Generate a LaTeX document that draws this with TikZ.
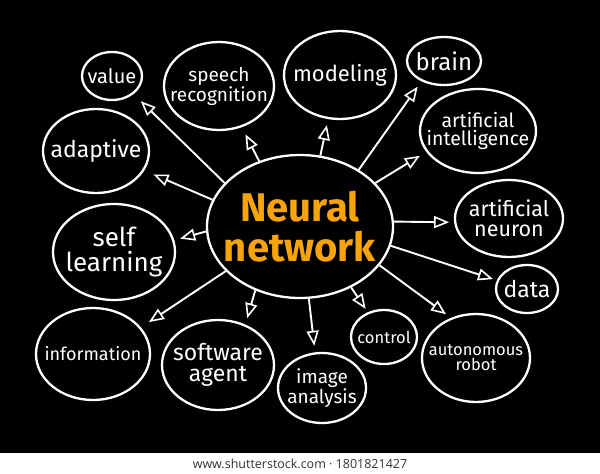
\documentclass[tikz,border=0pt]{standalone}
\usepackage{fontspec}
\setmainfont{Fira Sans}
\newfontfamily\footfont{Open Sans}
\usetikzlibrary{shapes.geometric,arrows.meta}
\definecolor{nnorange}{RGB}{247,163,12}
\definecolor{footgray}{RGB}{50,50,50}
\begin{document}
\begin{tikzpicture}[x=1pt,y=-1pt,
  bub/.style={draw=white, line width=2.3pt, ellipse, inner sep=0pt, fill=black},
  lbl/.style={text=white, align=center, inner sep=0pt},
  lnk/.style={draw=white, line width=1.9pt, -{Triangle[open,length=15pt,width=12pt,line width=1.6pt,fill=black]}},
  fs/.style={font=\fontsize{#1}{\fpeval{0.93*#1}}\selectfont}
]
\fill[black] (0,0) rectangle (600,453);
\fill[white] (0,453) rectangle (600,474);
\useasboundingbox (0,0) rectangle (600,474);

% central node
\node[bub, minimum width=186pt, minimum height=143pt,
  label={[lbl, text=nnorange, font=\fontsize{40}{40}\selectfont\bfseries]center:Neural\\network}] (nn) at (300,226.5) {};

% outer nodes
\node[bub, minimum width=60pt, minimum height=48pt, label={[lbl, fs=20]center:value}] (val) at (112,76) {};
\node[bub, minimum width=110pt, minimum height=88pt, label={[lbl, fs=19]center:speech\\recognition}] (spe) at (219,86) {};
\node[bub, minimum width=112pt, minimum height=88pt, label={[lbl, fs=22]center:modeling}] (mod) at (340,75) {};
\node[bub, minimum width=74pt, minimum height=48pt, label={[lbl, fs=24]center:brain}] (bra) at (444,61) {};
\node[bub, minimum width=116pt, minimum height=84pt, label={[lbl, fs=19.5]center:artificial\\intelligence}] (ai) at (478,131) {};
\node[bub, minimum width=106pt, minimum height=84pt, label={[lbl, fs=23]center:adaptive}] (ada) at (96,151) {};
\node[bub, minimum width=122pt, minimum height=96pt, label={[lbl, fs=26]center:self\\learning}] (sel) at (114,252) {};
\node[bub, minimum width=108pt, minimum height=77pt, label={[lbl, fs=21.5]center:artificial\\neuron}] (neu) at (509,218.5) {};
\node[bub, minimum width=62pt, minimum height=48pt, label={[lbl, fs=23]center:data}] (dat) at (527,289) {};
\node[bub, minimum width=108pt, minimum height=88pt, label={[lbl, fs=16.5]center:autonomous\\robot}] (rob) at (476,358) {};
\node[bub, minimum width=66pt, minimum height=54pt, label={[lbl, fs=16.5]center:control}] (con) at (384,337) {};
\node[bub, minimum width=88pt, minimum height=70pt, label={[lbl, fs=19]center:image\\analysis}] (img) at (322,388) {};
\node[bub, minimum width=112pt, minimum height=90pt, label={[lbl, fs=23]center:software\\agent}] (sof) at (218,365) {};
\node[bub, minimum width=114pt, minimum height=92pt, label={[lbl, fs=18]center:information}] (inf) at (93,354) {};

% connectors
\draw[lnk, shorten >=10pt] (nn.150) -- (val.-40.6);
\draw[lnk, shorten >=8pt] (nn.122) -- (spe.-61);
\draw[lnk, shorten >=6pt] (nn.74) -- (mod.255);
\draw[lnk, shorten >=6.5pt] (nn.44) -- (bra.222.7);
\draw[lnk, shorten >=7.5pt] (nn.30) -- (ai.202.8);
\draw[lnk, shorten >=5pt] (nn.3) -- (neu.184);
\draw[lnk, shorten >=4pt] (nn.-12) -- (dat.164.7);
\draw[lnk, shorten >=6pt] (nn.-26) -- (rob.122.5);
\draw[lnk, shorten >=4pt] (nn.-50) -- (con.123.7);
\draw[lnk, shorten >=6.5pt] (nn.-83) -- (img.101);
\draw[lnk, shorten >=6.5pt] (nn.235) -- (sof.56.3);
\draw[lnk, shorten >=9.5pt] (nn.211) -- (inf.29.4);
\draw[lnk, shorten >=6pt] (nn.183) -- (sel.11.3);
\draw[lnk, shorten >=10pt] (nn.163.5) -- (ada.-22.3);

% footer
\node[text=footgray, font=\footfont\fontsize{12.5}{14}\selectfont, inner sep=0pt] (foot) at (300,464) {www.shutterstock.com · 1801821427};
\end{tikzpicture}
\end{document}
